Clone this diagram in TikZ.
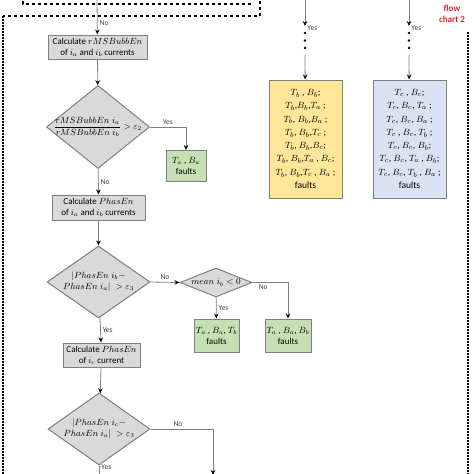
\documentclass[tikz,border=0pt]{standalone}
\usepackage{amsmath, amssymb}
\usepackage{fontspec}
\setmainfont{Carlito}
\usepackage{tikz}
\usetikzlibrary{arrows.meta, positioning, shapes.geometric}
\definecolor{boxgray}{HTML}{D9D9D9}
\definecolor{edgegray}{HTML}{7F7F7F}
\definecolor{faultgreen}{HTML}{C5E0B4}
\definecolor{faultyellow}{HTML}{FFE699}
\definecolor{faultblue}{HTML}{DAE3F3}
\definecolor{chartred}{HTML}{E0262B}

\begin{document}
\begin{tikzpicture}[x=1pt, y=-1pt,
  calcbox/.style={draw=edgegray, fill=boxgray, line width=1pt,
                  align=center, inner sep=1pt, font=\fontsize{9}{11}\selectfont},
  test/.style={diamond, draw=edgegray, fill=boxgray, line width=1pt,
               align=center, inner sep=-3pt, font=\fontsize{9}{11}\selectfont},
  fault/.style={draw=edgegray, fill=faultgreen, line width=1pt,
                align=center, inner sep=1pt, font=\fontsize{9}{11}\selectfont},
  faultlist/.style={draw=edgegray, line width=1pt, align=center,
                    inner sep=1pt, font=\fontsize{9.5}{13.3}\selectfont},
  arr/.style={-{Stealth[length=5pt, width=4.5pt, color=black]},
              draw=edgegray, line width=0.8pt},
  lbl/.style={font=\fontsize{7.5}{8}\selectfont, text=black!75, inner sep=2pt},
  frame/.style={dashed, line width=1.3pt},
  thickframe/.style={line width=2.2pt, dash pattern=on 2pt off 1pt}
]
  \useasboundingbox (0,0) rectangle (474,474);

  % dashed borders of the two flow charts
  \draw[frame] (23,-5) -- (23,4) -- (250,4) -- (250,-5);
  \draw[frame] (260,-5) -- (260,16) -- (3,16);
  \draw[thickframe] (3,16) -- (3,480);
  \draw[thickframe] (468,32) -- (468,480);
  \node[font=\small\bfseries, text=chartred, align=center] (fc2) at (452,14) {flow\\chart 2};

  % left chain
  \coordinate (in1) at (97,-2);
  \node[calcbox, minimum width=99pt, minimum height=24pt] (c1) at (97.5,47)
       {Calculate $rMSBubbEn$\\of $i_a$ and $i_b$ currents};
  \node[test, aspect=1.24, minimum width=103pt, minimum height=83pt] (d1) at (98,127)
       {$\dfrac{rMSBubbEn\; i_a}{rMSBubbEn\; i_b} > \varepsilon_2$};
  \node[fault, minimum width=40pt, minimum height=31pt] (fa) at (186,166)
       {$T_a$ , $B_a$\\faults};
  \node[calcbox, minimum width=93pt, minimum height=25pt] (c2) at (98.5,207.5)
       {Calculate $PhasEn$\\of $i_a$ and $i_b$ currents};
  \node[test, aspect=1.43, minimum width=103pt, minimum height=72pt] (d2) at (98.5,282)
       {$|PhasEn\; i_b -$\\$PhasEn\; i_a| \;>\varepsilon_3$};
  \node[test, aspect=2.48, minimum width=72pt, minimum height=29pt] (d3) at (216,282.5)
       {$mean\; i_b < 0$};
  \node[fault, minimum width=45pt, minimum height=33pt] (fab) at (216.5,335.5)
       {$T_a$ , $B_a$, $T_b$\\faults};
  \node[fault, minimum width=46pt, minimum height=33pt] (fabb) at (288,335.5)
       {$T_a$ , $B_a$, $B_b$\\faults};
  \node[calcbox, minimum width=77pt, minimum height=24pt] (c3) at (101.5,355)
       {Calculate $PhasEn$\\of $i_c$ current};
  \node[test, aspect=1.43, minimum width=102pt, minimum height=72pt] (d4) at (99,429)
       {$|PhasEn\; i_c -$\\$PhasEn\; i_a| \;>\varepsilon_3$};
  \coordinate (out1) at (213,475);
  \coordinate (out2) at (99,485);

  \draw[arr] (in1) -- node[lbl, right, pos=0.7] {No} (c1);
  \draw[arr] (c1) -- (d1);
  \draw[arr] (d1.east) -| node[lbl, above, pos=0.25] {Yes} (fa.north);
  \draw[arr] (d1) -- node[lbl, right] {No} (c2);
  \draw[arr] (c2) -- (d2);
  \draw[arr] (d2.east) -- node[lbl, above] {No} (d3.west);
  \draw[arr] (d3) -- node[lbl, right] {Yes} (fab);
  \draw[arr] (d3.east) -| node[lbl, below, pos=0.15] {No} (fabb.north);
  \draw[arr] (d2) -- node[lbl, right] {Yes} (c3);
  \draw[arr] (c3) -- (d4);
  \draw[arr] (d4.east) -| node[lbl, above, pos=0.22] {No} (out1);
  \draw[edgegray, line width=0.8pt] (d4.south) -- node[lbl, right, pos=0.1] {Yes} (out2);

  % right branches of flow chart 2
  \node[faultlist, fill=faultyellow, minimum width=73pt, minimum height=118pt] (tb) at (305.5,139)
       {$T_b$ , $B_b$;\\$T_b$,$B_b$,$T_a$ ;\\$T_b$, $B_b$,$B_a$ ;\\$T_b$, $B_b$,$T_c$ ;\\
        $T_b$, $B_b$,$B_c$;\\$T_b$, $B_b$,$T_a$ , $B_c$;\\$T_b$, $B_b$,$T_c$ , $B_a$ ;\\faults};
  \node[faultlist, fill=faultblue, minimum width=73pt, minimum height=118pt] (tc) at (409.5,139)
       {$T_c$ , $B_c$;\\$T_c$, $B_c$, $T_a$ ;\\$T_c$, $B_c$, $B_a$ ;\\$T_c$ , $B_c$, $T_b$ ;\\
        $T_c$, $B_c$, $B_b$;\\$T_c$, $B_c$, $T_a$ , $B_b$;\\$T_c$, $B_c$, $T_b$ , $B_a$ ;\\faults};
  \coordinate (inb) at (305,-2);
  \coordinate (yb) at (305,26);
  \coordinate (gb) at (305,55);
  \coordinate (inc) at (409,-2);
  \coordinate (yc) at (409,26);
  \coordinate (gc) at (409,55);
  \draw[arr] (inb) -- (yb) node[lbl, right, yshift=-2pt] {Yes};
  \draw[arr] (inc) -- (yc) node[lbl, right, yshift=-2pt] {Yes};
  \foreach \y in {33,40.5,48} {
    \fill (305,\y) circle (1.3pt);
    \fill (409,\y) circle (1.3pt);
  }
  \draw[arr] (gb) -- (tb);
  \draw[arr] (gc) -- (tc);
\end{tikzpicture}
\end{document}
